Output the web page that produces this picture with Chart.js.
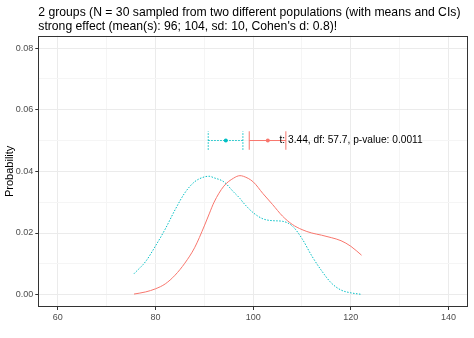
<!DOCTYPE html>
<html>
<head>
<meta charset="utf-8">
<script src="https://cdn.jsdelivr.net/npm/chart.js@4/dist/chart.umd.min.js"></script>
<style>
  body { margin: 0; background: #fff; }
  canvas { display: block; }
</style>
</head>
<body>
<canvas id="densityChart" width="474" height="338"></canvas>
<script>
// density estimates
var xGrid = [75.6, 78, 80, 82, 84, 86, 88, 90, 91, 92, 94, 96, 97.3, 98, 100, 102, 104, 106, 108, 110, 112, 114, 116, 118, 120, 122.2];
var redDensity = [0.0002, 0.0009, 0.0019, 0.0035, 0.0063, 0.0102, 0.0152, 0.0223, 0.0262, 0.0300, 0.0352, 0.0378, 0.0386, 0.0384, 0.0366, 0.0328, 0.0292, 0.0255, 0.0228, 0.0211, 0.0200, 0.0193, 0.0185, 0.0175, 0.0157, 0.0128];
var cyanDensity = [0.0068, 0.0108, 0.0158, 0.0213, 0.0275, 0.0330, 0.0366, 0.0382, 0.0384, 0.0379, 0.0366, 0.0333, 0.0312, 0.0298, 0.0266, 0.0246, 0.0240, 0.0238, 0.0223, 0.0182, 0.0126, 0.0078, 0.0038, 0.0015, 0.0006, 0.0001];

// means and CIs (low, mean, high) at height ciY
var cyanCI = [90.8, 94.4, 97.9];
var redCI = [99.2, 103.0, 106.7];
var ciY = 0.05;
var ciCap = 0.003;

var xTicks = [60, 70, 80, 90, 100, 110, 120, 130, 140];
var yTicks = [0, 0.01, 0.02, 0.03, 0.04, 0.05, 0.06, 0.07, 0.08];

var titleLines = [
    '2 groups (N = 30 sampled from two different populations (with means and CIs)',
    'strong effect (mean(s): 96; 104, sd: 10, Cohen\'s d: 0.8)!'
];
var testLabel = 't: 3.44, df: 57.7, p-value: 0.0011';
var testLabelX = 105.4;

var RED = '#F8766D';
var CYAN = '#00BFC4';

var toPoints = function (xs, ys) {
    return xs.map(function (x, i) { return { x: x, y: ys[i] }; });
};

// errorbar: horizontal line + two caps, gaps via null
var errorBar = function (ci) {
    return [
        { x: ci[0], y: ciY }, { x: ci[2], y: ciY }, { x: ci[2], y: null },
        { x: ci[0], y: ciY - ciCap }, { x: ci[0], y: ciY + ciCap }, { x: ci[0], y: null },
        { x: ci[2], y: ciY - ciCap }, { x: ci[2], y: ciY + ciCap }
    ];
};

var isMajor = function (v, step) {
    return Math.abs(Math.round(v / step) * step - v) < 1e-9;
};

var extrasPlugin = {
    id: 'extras',
    afterDraw: function (chart) {
        var ctx = chart.ctx;
        var a = chart.chartArea;
        ctx.save();
        // panel border
        ctx.strokeStyle = '#333333';
        ctx.lineWidth = 1;
        ctx.strokeRect(Math.round(a.left) + 0.5, Math.round(a.top) + 0.5,
            Math.round(a.right - a.left) - 1, Math.round(a.bottom - a.top) - 1);
        // title
        ctx.fillStyle = '#000';
        ctx.font = '12.2px "Liberation Sans", Arial, sans-serif';
        ctx.textBaseline = 'alphabetic';
        ctx.fillText(titleLines[0], a.left, 16);
        ctx.fillText(titleLines[1], a.left, 29.5);
        // t-test label
        ctx.font = '10.2px "Liberation Sans", Arial, sans-serif';
        ctx.textBaseline = 'middle';
        ctx.fillText(testLabel, chart.scales.x.getPixelForValue(testLabelX), chart.scales.y.getPixelForValue(ciY));
        ctx.restore();
    }
};

var ctx = document.getElementById('densityChart').getContext('2d');
var densityChart = new Chart(ctx, {
    type: 'line',
    data: {
        datasets: [
            {
                data: toPoints(xGrid, redDensity),
                borderColor: RED,
                borderWidth: 1,
                pointRadius: 0,
                cubicInterpolationMode: 'monotone',
                fill: false
            },
            {
                data: toPoints(xGrid, cyanDensity),
                borderColor: CYAN,
                borderWidth: 1,
                borderDash: [1.5, 1.5],
                pointRadius: 0,
                cubicInterpolationMode: 'monotone',
                fill: false
            },
            {
                data: errorBar(cyanCI),
                borderColor: CYAN,
                borderWidth: 1,
                borderDash: [1.5, 1.5],
                pointRadius: 0,
                spanGaps: false,
                tension: 0
            },
            {
                data: errorBar(redCI),
                borderColor: RED,
                borderWidth: 1,
                pointRadius: 0,
                spanGaps: false,
                tension: 0
            },
            {
                data: [{ x: cyanCI[1], y: ciY }],
                showLine: false,
                pointRadius: 2,
                pointBackgroundColor: CYAN,
                pointBorderColor: CYAN,
                borderWidth: 0
            },
            {
                data: [{ x: redCI[1], y: ciY }],
                showLine: false,
                pointRadius: 2,
                pointBackgroundColor: RED,
                pointBorderColor: RED,
                borderWidth: 0
            }
        ]
    },
    options: {
        responsive: false,
        animation: false,
        devicePixelRatio: 1,
        layout: { padding: { left: 3.4, right: 6, top: 35.7, bottom: 0 } },
        plugins: {
            legend: { display: false },
            tooltip: { enabled: false }
        },
        scales: {
            x: {
                type: 'linear',
                min: 56,
                max: 144,
                afterBuildTicks: function (scale) {
                    scale.ticks = xTicks.map(function (v) { return { value: v }; });
                },
                afterFit: function (scale) { scale.height = 31; },
                border: { display: false },
                grid: {
                    color: function (c) { return isMajor(c.tick.value, 20) ? '#ebebeb' : '#f5f5f5'; },
                    tickColor: function (c) { return isMajor(c.tick.value, 20) ? '#333333' : 'rgba(0,0,0,0)'; },
                    tickLength: 3,
                    lineWidth: 1
                },
                ticks: {
                    autoSkip: false,
                    maxRotation: 0,
                    padding: 2,
                    color: '#4d4d4d',
                    font: { family: '"Liberation Sans", Arial, sans-serif', size: 9 },
                    callback: function (v) { return isMajor(v, 20) ? String(v) : ''; }
                }
            },
            y: {
                type: 'linear',
                min: -0.004,
                max: 0.084,
                afterBuildTicks: function (scale) {
                    scale.ticks = yTicks.map(function (v) { return { value: v }; });
                },
                afterFit: function (scale) { scale.width = 34.9; },
                border: { display: false },
                grid: {
                    color: function (c) { return isMajor(c.tick.value, 0.02) ? '#ebebeb' : '#f5f5f5'; },
                    tickColor: function (c) { return isMajor(c.tick.value, 0.02) ? '#333333' : 'rgba(0,0,0,0)'; },
                    tickLength: 3,
                    lineWidth: 1
                },
                ticks: {
                    autoSkip: false,
                    padding: 2,
                    color: '#4d4d4d',
                    font: { family: '"Liberation Sans", Arial, sans-serif', size: 9 },
                    callback: function (v) { return isMajor(v, 0.02) ? v.toFixed(2) : ''; }
                },
                title: {
                    display: true,
                    text: 'Probability',
                    color: '#000',
                    padding: 0,
                    font: { family: '"Liberation Sans", Arial, sans-serif', size: 11 }
                }
            }
        }
    },
    plugins: [extrasPlugin]
});
</script>
</body>
</html>
